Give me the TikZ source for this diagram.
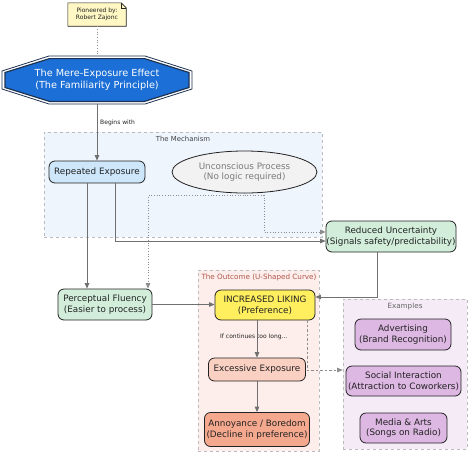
\documentclass[tikz,border=0pt]{standalone}
\usepackage{fontspec}
\setmainfont{DejaVu Sans}
\usetikzlibrary{arrows.meta,shapes.geometric}
\definecolor{octfill}{HTML}{1C6FD6}
\definecolor{octline}{HTML}{1E3252}
\definecolor{mechfill}{HTML}{EEF5FD}
\definecolor{refill}{HTML}{CDE6FA}
\definecolor{ellfill}{HTML}{F2F2F2}
\definecolor{grnfill}{HTML}{D2EEDA}
\definecolor{ylwfill}{HTML}{FFEE5E}
\definecolor{outfill}{HTML}{FDEEEC}
\definecolor{outlabel}{HTML}{B0574A}
\definecolor{eefill}{HTML}{FAD0C2}
\definecolor{anfill}{HTML}{F4A88E}
\definecolor{exfill}{HTML}{F5EBF7}
\definecolor{purfill}{HTML}{DDB8E3}
\definecolor{notefill}{HTML}{FFF8C4}
\definecolor{edgecol}{HTML}{707070}
\definecolor{clborder}{HTML}{BBBBBB}
\definecolor{txt}{HTML}{222222}
\begin{document}
\begin{tikzpicture}[x=1pt,y=-1pt,
  box/.style={draw=txt,line width=0.8pt,rounded corners=6pt,inner sep=0pt,align=center,text=txt,font=\fontsize{8.8}{10.8}\selectfont},
  cluster/.style={draw=clborder,dashed,line width=0.6pt,inner sep=0pt},
  cllabel/.style={font=\fontsize{7.2}{8.5}\selectfont,inner sep=0pt},
  smalllabel/.style={font=\fontsize{6}{7}\selectfont,text=txt,inner sep=0pt},
  edge/.style={draw=edgecol,line width=0.8pt,-{Triangle[length=5.5pt,width=4.5pt]}},
  dotedge/.style={draw=edgecol!80,line width=0.7pt,dotted,-{Triangle[length=5.5pt,width=4.5pt]}},
  dashedge/.style={draw=edgecol!80,line width=0.7pt,dash pattern=on 2.5pt off 2pt,-{Triangle[length=5.5pt,width=4.5pt]}},
  plainedge/.style={draw=edgecol!80,line width=0.7pt,dotted}
]
\useasboundingbox[fill=white] (0,0) rectangle (474,456);

% clusters
\node[cluster,fill=mechfill,minimum width=278pt,minimum height=105pt] (mech) at (183,184.5) {};
\node[cllabel,text=txt!85,font=\fontsize{6.9}{8}\selectfont] (mechlab) at (183,138.5) {The Mechanism};
\node[cluster,fill=outfill,minimum width=121pt,minimum height=181pt] (outc) at (258.5,360.5) {};
\node[cllabel,text=outlabel] (outlab) at (259,277.5) {The Outcome (U-Shaped Curve)};
\node[cluster,fill=exfill,minimum width=124pt,minimum height=150pt] (excl) at (405,374) {};
\node[cllabel,text=txt!70] (exlab) at (405,307) {Examples};

% note
\node[inner sep=0pt,minimum width=58pt,minimum height=23pt] (note) at (97,14.5) {};
\draw[draw=txt,line width=0.6pt,fill=notefill] (note.north west) -- ([xshift=-5pt]note.north east) -- ([yshift=-5pt]note.north east) -- (note.south east) -- (note.south west) -- cycle;
\draw[draw=txt,line width=0.5pt] ([xshift=-5pt]note.north east) -- ([xshift=-5pt,yshift=-5pt]note.north east) -- ([yshift=-5pt]note.north east);
\node[inner sep=0pt,align=center,font=\fontsize{6}{7.5}\selectfont,text=txt] (notetext) at (note.center) {Pioneered by:\\Robert Zajonc};

% octagon
\node[inner sep=0pt,minimum width=190pt,minimum height=48pt] (oct) at (97,80) {};
\draw[draw=octline,line width=0.8pt,fill=white] (2,71) -- (49,56) -- (145,56) -- (192,71) -- (192,89) -- (145,104) -- (49,104) -- (2,89) -- cycle;
\draw[draw=octline,line width=1.2pt,fill=octfill] (5,72.5) -- (49.5,58.6) -- (144.5,58.6) -- (189,72.5) -- (189,87.5) -- (144.5,101.4) -- (49.5,101.4) -- (5,87.5) -- cycle;
\node[inner sep=0pt,align=center,text=white,font=\fontsize{9.7}{11.6}\selectfont] (octtext) at (oct.center) {The Mere-Exposure Effect\\(The Familiarity Principle)};

% main nodes
\node[box,fill=refill,minimum width=96pt,minimum height=22pt] (RE) at (97,172) {Repeated Exposure};
\node[ellipse,draw=txt,line width=0.8pt,fill=ellfill,inner sep=0pt,minimum width=145pt,minimum height=42pt,align=center,text=txt!60,font=\fontsize{8.8}{10.8}\selectfont] (ell) at (244.5,172) {Unconscious Process\\(No logic required)};
\node[box,fill=grnfill,minimum width=130pt,minimum height=31pt] (RU) at (391,236.5) {Reduced Uncertainty\\(Signals safety/predictability)};
\node[box,fill=grnfill,minimum width=94pt,minimum height=31pt] (PF) at (105,304.5) {Perceptual Fluency\\(Easier to process)};
\node[box,fill=ylwfill,minimum width=100pt,minimum height=30pt] (IL) at (265,305) {INCREASED LIKING\\(Preference)};
\node[box,fill=eefill,minimum width=97pt,minimum height=23pt] (EE) at (257,369.5) {Excessive Exposure};
\node[box,fill=anfill,minimum width=105pt,minimum height=34pt] (AN) at (257,429.5) {Annoyance / Boredom\\(Decline in preference)};
\node[box,fill=purfill,minimum width=96pt,minimum height=31pt] (AD) at (403,334.5) {Advertising\\(Brand Recognition)};
\node[box,fill=purfill,minimum width=115pt,minimum height=30pt] (SI) at (403.5,381) {Social Interaction\\(Attraction to Coworkers)};
\node[box,fill=purfill,minimum width=87pt,minimum height=30pt] (MA) at (403.5,428) {Media \& Arts\\(Songs on Radio)};

% labels
\node[smalllabel,anchor=west] (beg) at (100,123) {Begins with};
\node[smalllabel,anchor=west] (cont) at (220,337) {If continues too long...};

% connectors
\draw[plainedge] (note.south) -- (oct.north);
\draw[edge] (oct.south) -- (RE.north);
\draw[edge] ([xshift=-10pt]RE.south) -- ([xshift=-10pt]RE.south |- PF.north);
\draw[edge] ([xshift=18pt]RE.south) |- ([yshift=-4.5pt]RU.west);
\coordinate (jn) at ([yshift=-2pt]ell.south);
\coordinate (k2) at (264,232);
\draw[dotedge] (ell.south) -- (jn) -| ([xshift=43pt]PF.north);
\draw[dotedge] (jn) -| (k2) -- (k2 -| RU.west);
\draw[edge] ([xshift=-14pt]RU.south) |- ([yshift=8pt]IL.east);
\draw[edge] (PF.east) -- (PF.east -| IL.west);
\draw[edge] (EE.north |- IL.south) -- (EE.north);
\draw[edge] (EE.south) -- (AN.north);
\coordinate (exin) at ([yshift=4pt]excl.west);
\draw[dashedge] ([xshift=42pt]IL.south) |- (exin);
\end{tikzpicture}
\end{document}
